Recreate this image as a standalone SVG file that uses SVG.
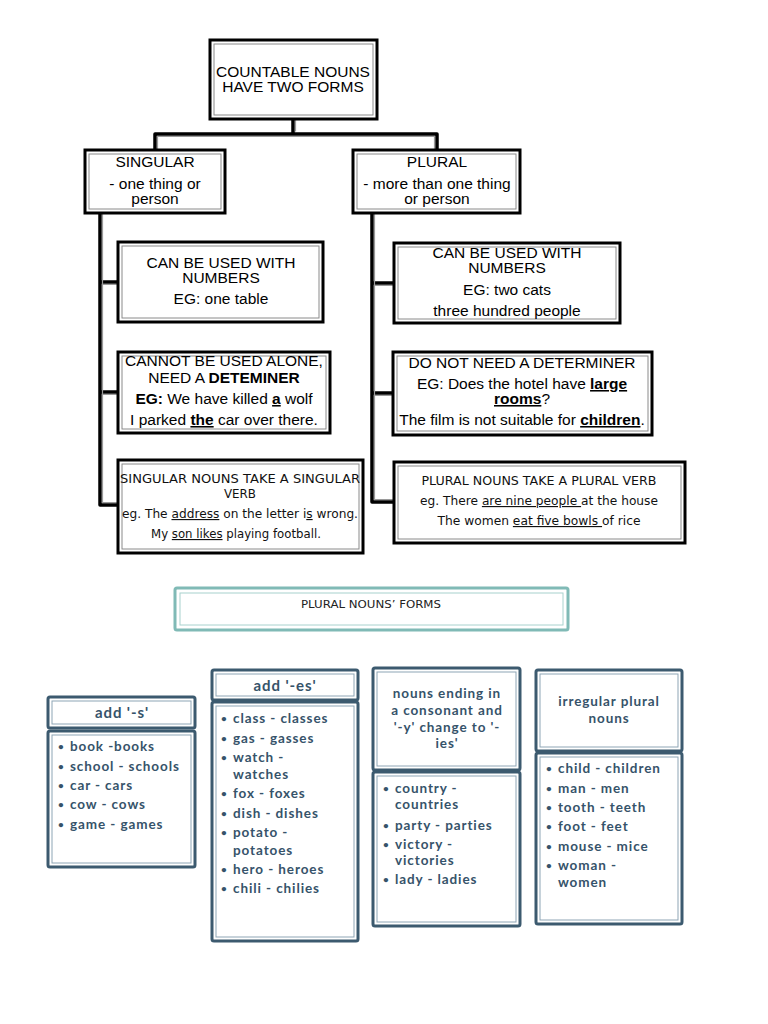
<svg xmlns="http://www.w3.org/2000/svg" width="768" height="1024" viewBox="0 0 768 1024">
<style>
.bo{fill:#fff;stroke:#000;stroke-width:3}
.bi{fill:none;stroke:#8a8a8a;stroke-width:1}
.ar{font-family:"Liberation Sans",Arial,sans-serif;font-size:15.5px;fill:#000;text-anchor:middle}
.cg{font-family:"DejaVu Sans",sans-serif;font-size:11.5px;fill:#111;text-anchor:middle}
.b{font-weight:bold}
.u{text-decoration:underline}
.co{fill:none;stroke:#000;stroke-width:3.5;stroke-linejoin:round}
.cg2{fill:none;stroke:#9a9a9a;stroke-width:1.2}
.to{fill:#fff;stroke:#80bab6;stroke-width:3}
.ti{fill:none;stroke:#a8d2ce;stroke-width:1}
.po{fill:#fff;stroke:#3c5a6f;stroke-width:3}
.pi{fill:none;stroke:#8ea5b5;stroke-width:1}
.pt{font-family:Lato,"DejaVu Sans",sans-serif;font-weight:bold;font-size:13.5px;fill:#36536a;letter-spacing:0.9px}
.bl{font-size:10px}
.ph{text-anchor:middle}
.hd{font-size:15px}
</style>
<g id="connectors">
<path class="co" d="M293 119 V134 M155 150 V134 H437 V150"/>
<path class="cg2" d="M295.5 119 V131.5 M157.5 150 V136.5 H434.5 V150"/>
<path class="co" d="M100 213 V505 H118 M100 282 H118 M100 392 H118"/>
<path class="cg2" d="M102.5 213 V502.5 H118 M102.5 284.5 H118 M102.5 394.5 H118"/>
<path class="co" d="M372 213 V502 H394 M372 283 H394 M372 393 H393"/>
<path class="cg2" d="M374.5 213 V499.5 H394 M374.5 285.5 H394 M374.5 395.5 H393"/>
</g>
<g id="root">
<rect class="bo" x="210" y="40" width="167" height="79"/>
<rect class="bi" x="214" y="44" width="159" height="71"/>
<text class="ar" x="293" y="77" font-size="16px">COUNTABLE NOUNS</text>
<text class="ar" x="293" y="92" font-size="16px">HAVE TWO FORMS</text>
</g>
<g id="singular">
<rect class="bo" x="85" y="150" width="140" height="63"/>
<rect class="bi" x="89" y="154" width="132" height="55"/>
<text class="ar" x="155" y="167">SINGULAR</text>
<text class="ar" x="155" y="189">- one thing or</text>
<text class="ar" x="155" y="204">person</text>
</g>
<g id="plural">
<rect class="bo" x="353" y="150" width="167" height="63"/>
<rect class="bi" x="357" y="154" width="159" height="55"/>
<text class="ar" x="437" y="167">PLURAL</text>
<text class="ar" x="437" y="189">- more than one thing</text>
<text class="ar" x="437" y="204">or person</text>
</g>
<g id="s1">
<rect class="bo" x="118" y="242" width="205" height="80"/>
<rect class="bi" x="122" y="246" width="197" height="72"/>
<text class="ar" x="221" y="268">CAN BE USED WITH</text>
<text class="ar" x="221" y="283">NUMBERS</text>
<text class="ar" x="221" y="304">EG: one table</text>
</g>
<g id="s2">
<rect class="bo" x="118" y="352" width="212" height="81"/>
<rect class="bi" x="122" y="356" width="204" height="73"/>
<text class="ar" x="224" y="366">CANNOT BE USED ALONE,</text>
<text class="ar" x="224" y="383">NEED A <tspan class="b">DETEMINER</tspan></text>
<text class="ar" x="224" y="404"><tspan class="b">EG:</tspan> We have killed <tspan class="b u">a</tspan> wolf</text>
<text class="ar" x="224" y="425">I parked <tspan class="b u">the</tspan> car over there.</text>
</g>
<g id="s3">
<rect class="bo" x="118" y="460" width="245" height="93"/>
<rect class="bi" x="122" y="464" width="237" height="85"/>
<text class="cg" x="240" y="483" textLength="240" lengthAdjust="spacingAndGlyphs">SINGULAR NOUNS TAKE A SINGULAR</text>
<text class="cg" x="240" y="498" textLength="32" lengthAdjust="spacingAndGlyphs">VERB</text>
<text class="cg" x="240" y="518" textLength="236" lengthAdjust="spacingAndGlyphs">eg. The <tspan class="u">address</tspan> on the letter i<tspan class="u">s</tspan> wrong.</text>
<text class="cg" x="236" y="538" textLength="170" lengthAdjust="spacingAndGlyphs">My <tspan class="u">son likes</tspan> playing football.</text>
</g>
<g id="p1">
<rect class="bo" x="394" y="243" width="226" height="80"/>
<rect class="bi" x="398" y="247" width="218" height="72"/>
<text class="ar" x="507" y="258">CAN BE USED WITH</text>
<text class="ar" x="507" y="273">NUMBERS</text>
<text class="ar" x="507" y="295">EG: two cats</text>
<text class="ar" x="507" y="316">three hundred people</text>
</g>
<g id="p2">
<rect class="bo" x="393" y="352" width="259" height="83"/>
<rect class="bi" x="397" y="356" width="251" height="75"/>
<text class="ar" x="522" y="368">DO NOT NEED A DETERMINER</text>
<text class="ar" x="522" y="389">EG: Does the hotel have <tspan class="b u">large</tspan></text>
<text class="ar" x="522" y="404"><tspan class="b u">rooms</tspan>?</text>
<text class="ar" x="522" y="425">The film is not suitable for <tspan class="b u">children</tspan>.</text>
</g>
<g id="p3">
<rect class="bo" x="394" y="462" width="291" height="81"/>
<rect class="bi" x="398" y="466" width="283" height="73"/>
<text class="cg" x="539" y="485" textLength="235" lengthAdjust="spacingAndGlyphs">PLURAL NOUNS TAKE A PLURAL VERB</text>
<text class="cg" x="539" y="505" textLength="238" lengthAdjust="spacingAndGlyphs">eg. There <tspan class="u">are nine people </tspan>at the house</text>
<text class="cg" x="539" y="525" textLength="203" lengthAdjust="spacingAndGlyphs">The women <tspan class="u">eat five bowls </tspan>of rice</text>
</g>
<g id="forms">
<rect class="to" x="175" y="588" width="393" height="42" rx="2"/>
<rect class="ti" x="180" y="593" width="383" height="32"/>
<text x="371" y="608" text-anchor="middle" font-family="'DejaVu Sans',sans-serif" font-size="10" fill="#222" textLength="140" lengthAdjust="spacingAndGlyphs">PLURAL NOUNS’ FORMS</text>
</g>
<g id="add-s">
<rect class="po" x="48" y="697" width="147" height="31" rx="2"/>
<rect class="pi" x="52" y="701" width="139" height="23"/>
<text class="pt ph hd" x="122" y="718">add '-s'</text>
<rect class="po" x="48" y="731" width="147" height="136" rx="2"/>
<rect class="pi" x="52" y="735" width="139" height="128"/>
<text class="pt"><tspan class="bl" x="58" y="750">•</tspan><tspan x="70" y="751">book -books</tspan><tspan class="bl" x="58" y="770">•</tspan><tspan x="70" y="771">school - schools</tspan><tspan class="bl" x="58" y="789">•</tspan><tspan x="70" y="790">car - cars</tspan><tspan class="bl" x="58" y="808">•</tspan><tspan x="70" y="809">cow - cows</tspan><tspan class="bl" x="58" y="828">•</tspan><tspan x="70" y="829">game - games</tspan></text>
</g>
<g id="add-es">
<rect class="po" x="212" y="670" width="146" height="30" rx="2"/>
<rect class="pi" x="216" y="674" width="138" height="22"/>
<text class="pt ph hd" x="285" y="691">add '-es'</text>
<rect class="po" x="212" y="702" width="146" height="239" rx="2"/>
<rect class="pi" x="216" y="706" width="138" height="231"/>
<text class="pt"><tspan class="bl" x="221" y="722">•</tspan><tspan x="233" y="723">class - classes</tspan><tspan class="bl" x="221" y="742">•</tspan><tspan x="233" y="743">gas - gasses</tspan><tspan class="bl" x="221" y="761">•</tspan><tspan x="233" y="762">watch -</tspan><tspan x="233" y="779">watches</tspan><tspan class="bl" x="221" y="797">•</tspan><tspan x="233" y="798">fox - foxes</tspan><tspan class="bl" x="221" y="817">•</tspan><tspan x="233" y="818">dish - dishes</tspan><tspan class="bl" x="221" y="836">•</tspan><tspan x="233" y="837">potato -</tspan><tspan x="233" y="855">potatoes</tspan><tspan class="bl" x="221" y="873">•</tspan><tspan x="233" y="874">hero - heroes</tspan><tspan class="bl" x="221" y="892">•</tspan><tspan x="233" y="893">chili - chilies</tspan></text>
</g>
<g id="ies">
<rect class="po" x="373" y="668" width="147" height="102" rx="2"/>
<rect class="pi" x="377" y="672" width="139" height="94"/>
<text class="pt ph" font-size="13.5px" letter-spacing="0.9px"><tspan x="447" y="698">nouns ending in</tspan><tspan x="447" y="715">a consonant and</tspan><tspan x="447" y="732">'-y' change to '-</tspan><tspan x="447" y="748">ies'</tspan></text>
<rect class="po" x="373" y="772" width="147" height="154" rx="2"/>
<rect class="pi" x="377" y="776" width="139" height="146"/>
<text class="pt"><tspan class="bl" x="383" y="792">•</tspan><tspan x="395" y="793">country -</tspan><tspan x="395" y="809">countries</tspan><tspan class="bl" x="383" y="829">•</tspan><tspan x="395" y="830">party - parties</tspan><tspan class="bl" x="383" y="848">•</tspan><tspan x="395" y="849">victory -</tspan><tspan x="395" y="865">victories</tspan><tspan class="bl" x="383" y="883">•</tspan><tspan x="395" y="884">lady - ladies</tspan></text>
</g>
<g id="irregular">
<rect class="po" x="536" y="670" width="146" height="81" rx="2"/>
<rect class="pi" x="540" y="674" width="138" height="73"/>
<text class="pt ph" font-size="13.5px"><tspan x="609" y="706">irregular plural</tspan><tspan x="609" y="723">nouns</tspan></text>
<rect class="po" x="536" y="753" width="146" height="171" rx="2"/>
<rect class="pi" x="540" y="757" width="138" height="163"/>
<text class="pt"><tspan class="bl" x="546" y="772">•</tspan><tspan x="558" y="773">child - children</tspan><tspan class="bl" x="546" y="792">•</tspan><tspan x="558" y="793">man - men</tspan><tspan class="bl" x="546" y="811">•</tspan><tspan x="558" y="812">tooth - teeth</tspan><tspan class="bl" x="546" y="830">•</tspan><tspan x="558" y="831">foot - feet</tspan><tspan class="bl" x="546" y="850">•</tspan><tspan x="558" y="851">mouse - mice</tspan><tspan class="bl" x="546" y="869">•</tspan><tspan x="558" y="870">woman -</tspan><tspan x="558" y="887">women</tspan></text>
</g>
</svg>
